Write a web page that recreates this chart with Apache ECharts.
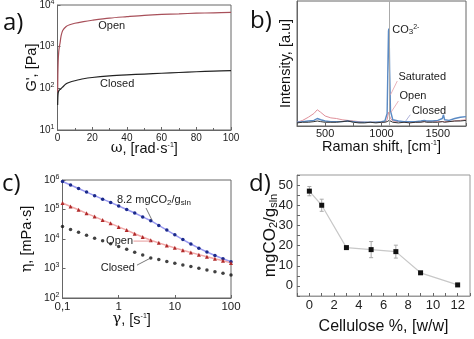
<!DOCTYPE html>
<html>
<head>
<meta charset="utf-8">
<title>Rheology, Raman and CO2 uptake</title>
<script src="https://cdn.jsdelivr.net/npm/echarts@6/dist/echarts.min.js"></script>
<style>
  html, body { margin: 0; padding: 0; background: #fff; }
  #main { width: 474px; height: 339px; }
</style>
</head>
<body>
<div id="main"></div>
<script>
// a) storage modulus G' vs angular frequency
const omega = [0.1, 0.2, 0.4, 0.7, 1, 1.5, 2, 3, 5, 7, 10, 15, 20, 30, 40, 50, 60, 70, 80, 90, 100];
const gOpen = [80, 200, 450, 750, 950, 1250, 1750, 2450, 3050, 3350, 3650, 4000, 4300, 4850, 5250, 5650, 5950, 6150, 6350, 6500, 6650];
const gClosed = [40, 60, 78, 86, 90, 94, 98, 108, 128, 140, 152, 170, 182, 198, 210, 220, 230, 240, 250, 258, 265];

// b) Raman spectra
const ramanShift = [250, 300, 350, 400, 430, 445, 460, 500, 550, 600, 650, 700, 750, 800, 850, 900, 950, 1000, 1030, 1050, 1058, 1062, 1065, 1068, 1072, 1080, 1100, 1150, 1200, 1250, 1300, 1350, 1380, 1400, 1450, 1500, 1540, 1550, 1560, 1600, 1650, 1700, 1750];
const ramanSaturated = [0.03, 0.035, 0.04, 0.045, 0.06, 0.055, 0.05, 0.04, 0.035, 0.035, 0.035, 0.04, 0.035, 0.03, 0.03, 0.03, 0.03, 0.035, 0.04, 0.1, 0.55, 0.76, 0.78, 0.74, 0.45, 0.12, 0.05, 0.04, 0.035, 0.035, 0.035, 0.04, 0.045, 0.04, 0.04, 0.045, 0.06, 0.09, 0.05, 0.045, 0.06, 0.07, 0.075];
const ramanOpen = [0.03, 0.045, 0.07, 0.1, 0.13, 0.14, 0.11, 0.08, 0.065, 0.06, 0.05, 0.045, 0.04, 0.035, 0.03, 0.03, 0.03, 0.03, 0.035, 0.05, 0.09, 0.11, 0.11, 0.1, 0.08, 0.06, 0.04, 0.035, 0.03, 0.03, 0.03, 0.035, 0.035, 0.035, 0.035, 0.035, 0.035, 0.04, 0.035, 0.035, 0.04, 0.045, 0.05];
const ramanClosed = [0.025, 0.03, 0.03, 0.035, 0.04, 0.04, 0.035, 0.03, 0.03, 0.03, 0.035, 0.04, 0.03, 0.025, 0.025, 0.03, 0.025, 0.03, 0.03, 0.035, 0.045, 0.05, 0.05, 0.045, 0.04, 0.035, 0.03, 0.025, 0.03, 0.025, 0.03, 0.03, 0.035, 0.03, 0.03, 0.03, 0.035, 0.04, 0.03, 0.035, 0.04, 0.04, 0.045];

// c) viscosity vs shear rate
const shearRate = [0.1, 0.139, 0.193, 0.268, 0.373, 0.518, 0.72, 1, 1.39, 1.93, 2.68, 3.73, 5.18, 7.2, 10, 13.9, 19.3, 26.8, 37.3, 51.8, 72, 100];
const etaSaturated = [891000, 676000, 513000, 389000, 295000, 224000, 174000, 132000, 100000, 75900, 56200, 41700, 28800, 20000, 13800, 9550, 6760, 4900, 3630, 2750, 2140, 1700];
const etaOpen = [166000, 126000, 97700, 74100, 57500, 43700, 33900, 25700, 20000, 15100, 11700, 9120, 7410, 6030, 5010, 4170, 3470, 2950, 2510, 2140, 1820, 1550];
const etaClosed = [26300, 20900, 17000, 13500, 10700, 8710, 6920, 5620, 4470, 3550, 2880, 2290, 2000, 1740, 1510, 1320, 1170, 1020, 891, 776, 692, 603];

// d) CO2 uptake vs cellulose content
const cellulose = [0, 1, 3, 5, 7, 9, 12];
const co2Uptake = [47, 40, 19, 18, 17, 6.5, 0.5];
const co2Err = [2.3, 3, 0.5, 4, 3.2, 0.5, 0.5];

const pairs = (xs, ys) => xs.map((x, i) => [x, ys[i]]);

const FONT = 'Liberation Sans';
const frame = '#666';
const sup = { fontSize: 7, padding: [0, 0, 6, 0] };
const sub = { fontSize: 8, padding: [5, 0, 0, 0] };
const greek = { fontFamily: 'DejaVu Serif' };
const powerLabel = v => '10{sup|' + Math.round(Math.log10(v)) + '}';

function axis (extra) {
  return Object.assign({
    nameLocation: 'middle',
    nameMoveOverlap: false,
    nameTextStyle: { fontFamily: FONT, fontSize: 14.5, color: '#111', rich: { sup, sub, g: greek } },
    axisLine: { show: true, onZero: false, lineStyle: { color: frame } },
    axisTick: { show: true, inside: true, length: 3, lineStyle: { color: frame } },
    splitLine: { show: false },
    axisLabel: { fontFamily: FONT, fontSize: 10, color: '#222', margin: 3, rich: { sup } },
  }, extra);
}

const box = { show: true, borderColor: frame, borderWidth: 1, containLabel: false, outerBoundsMode: 'none' };

const option = {
  animation: false,
  backgroundColor: '#fff',
  grid: [
    Object.assign({ left: 57.5, top: 5, width: 173.5, height: 125 }, box),
    Object.assign({ left: 297, top: 1, width: 169, height: 125 }, box),
    Object.assign({ left: 62.5, top: 180, width: 168.5, height: 118 }, box),
    Object.assign({ left: 297, top: 175, width: 173, height: 121 }, box, { borderColor: '#999' }),
  ],
  xAxis: [
    axis({ gridIndex: 0, type: 'value', min: 0, max: 100, interval: 20, minorTick: { show: true, splitNumber: 2, length: 2 },
      name: '{g|ω}, [rad·s{sup|-1}]', nameGap: 11 }),
    axis({ gridIndex: 1, type: 'value', min: 250, max: 1750, interval: 250,
      axisLabel: { fontFamily: FONT, fontSize: 11, color: '#222', margin: 2, formatter: v => (v % 500 === 0 ? v : '') },
      name: 'Raman shift, [cm{sup|-1}]', nameGap: 13 }),
    axis({ gridIndex: 2, type: 'log', logBase: 10, min: 0.1, max: 100,
      axisLabel: { fontFamily: FONT, fontSize: 11.5, color: '#222', margin: 3, formatter: v => (v < 0.5 ? '0,1' : String(Math.round(v))) },
      name: '{g|γ}, [s{sup|-1}]', nameGap: 14,
      nameTextStyle: { fontFamily: FONT, fontSize: 14.5, color: '#111', padding: [0, 30, 0, 0], rich: { sup, g: greek } } }),
    axis({ gridIndex: 3, type: 'value', min: -1, max: 13, interval: 1,
      axisLine: { show: true, onZero: false, lineStyle: { color: '#999' } },
      axisLabel: { fontFamily: FONT, fontSize: 13, color: '#222', margin: 3, formatter: v => (v >= 0 && v % 2 === 0 ? v : '') },
      name: 'Cellulose %, [w/w]', nameGap: 23, nameTextStyle: { fontFamily: FONT, fontSize: 16, color: '#111' } }),
  ],
  yAxis: [
    axis({ gridIndex: 0, type: 'log', logBase: 10, min: 10, max: 10000,
      axisLabel: { fontFamily: FONT, fontSize: 10, color: '#222', margin: 3, formatter: powerLabel, rich: { sup } },
      name: "G', [Pa]", nameGap: 18 }),
    axis({ gridIndex: 1, type: 'value', min: 0, max: 1, axisLabel: { show: false }, axisTick: { show: false },
      name: 'Intensity, [a.u]', nameGap: 4 }),
    axis({ gridIndex: 2, type: 'log', logBase: 10, min: 100, max: 1000000,
      axisLabel: { fontFamily: FONT, fontSize: 10.5, color: '#222', margin: 3, formatter: powerLabel, rich: { sup } },
      name: '{g|η}, [mPa·s]', nameGap: 28 }),
    axis({ gridIndex: 3, type: 'value', min: -5, max: 55, interval: 5,
      axisLine: { show: true, onZero: false, lineStyle: { color: '#999' } },
      axisLabel: { fontFamily: FONT, fontSize: 13, color: '#222', margin: 4, formatter: v => (v >= 0 && v % 10 === 0 ? v : '') },
      name: 'mgCO{sub|2}/g{sub|sln}', nameGap: 18,
      nameTextStyle: { fontFamily: FONT, fontSize: 17, color: '#111', rich: { sub: { fontSize: 11, padding: [7, 0, 0, 0] } } } }),
  ],
  series: [
    // a
    { type: 'line', xAxisIndex: 0, yAxisIndex: 0, data: pairs(omega, gOpen), showSymbol: false, smooth: 0.3, lineStyle: { color: '#a8505a', width: 1.2 } },
    { type: 'line', xAxisIndex: 0, yAxisIndex: 0, data: pairs(omega, gClosed), showSymbol: false, smooth: 0.3, lineStyle: { color: '#222', width: 1.2 } },
    // b
    { type: 'line', xAxisIndex: 1, yAxisIndex: 1, data: pairs(ramanShift, ramanOpen), showSymbol: false, lineStyle: { color: '#e0909a', width: 1 } },
    { type: 'line', xAxisIndex: 1, yAxisIndex: 1, data: pairs(ramanShift, ramanSaturated), showSymbol: false, lineStyle: { color: '#5a8ac4', width: 1.4 },
      markLine: { silent: true, symbol: 'none', label: { show: false }, lineStyle: { color: '#aaa', width: 1, type: 'solid' }, data: [{ xAxis: 1065 }] } },
    { type: 'line', xAxisIndex: 1, yAxisIndex: 1, data: pairs(ramanShift, ramanClosed), showSymbol: false, lineStyle: { color: '#333', width: 1 } },
    // c
    { type: 'line', xAxisIndex: 2, yAxisIndex: 2, data: pairs(shearRate, etaSaturated), symbol: 'circle', symbolSize: 3.5,
      itemStyle: { color: '#1b2a8c' }, lineStyle: { color: '#9a9af0', width: 1.5 } },
    { type: 'line', xAxisIndex: 2, yAxisIndex: 2, data: pairs(shearRate, etaOpen), symbol: 'triangle', symbolSize: 4,
      itemStyle: { color: '#b02a2a' }, lineStyle: { color: '#f2a8a8', width: 1.5 } },
    { type: 'scatter', xAxisIndex: 2, yAxisIndex: 2, data: pairs(shearRate, etaClosed), symbol: 'circle', symbolSize: 3.5,
      itemStyle: { color: '#111' } },
    // d
    { type: 'custom', xAxisIndex: 3, yAxisIndex: 3, z: 1,
      data: cellulose.map((c, i) => [c, co2Uptake[i] - co2Err[i], co2Uptake[i] + co2Err[i]]),
      renderItem: (params, api) => {
        const lo = api.coord([api.value(0), api.value(1)]);
        const hi = api.coord([api.value(0), api.value(2)]);
        const st = { stroke: '#aaa', lineWidth: 1 };
        return { type: 'group', children: [
          { type: 'line', shape: { x1: lo[0], y1: lo[1], x2: hi[0], y2: hi[1] }, style: st },
          { type: 'line', shape: { x1: lo[0] - 2, y1: lo[1], x2: lo[0] + 2, y2: lo[1] }, style: st },
          { type: 'line', shape: { x1: hi[0] - 2, y1: hi[1], x2: hi[0] + 2, y2: hi[1] }, style: st },
        ] };
      } },
    { type: 'line', xAxisIndex: 3, yAxisIndex: 3, data: pairs(cellulose, co2Uptake), symbol: 'rect', symbolSize: 5, z: 3,
      itemStyle: { color: '#111' }, lineStyle: { color: '#c8c8c8', width: 1.2 } },
  ],
};

const chart = echarts.init(document.getElementById('main'), null, { renderer: 'canvas' });
chart.setOption(option);

// text annotations and leader lines, anchored in data coordinates
const notes = [
  { g: 0, pos: [23.5, 3220], text: 'Open' },
  { g: 0, pos: [24.5, 127], text: 'Closed' },
  { g: 1, pos: [1095, 0.77], text: 'CO{sub|3}{sup|2-}' },
  { g: 1, pos: [1150, 0.39], text: 'Saturated' },
  { g: 1, pos: [1160, 0.24], text: 'Open' },
  { g: 1, pos: [1270, 0.12], text: 'Closed' },
  { g: 2, pos: [0.93, 209000], text: '8.2 mgCO{sub|2}/g{sub|sln}' },
  { g: 2, pos: [1.8, 8500], text: 'Open', align: 'right' },
  { g: 2, pos: [1.95, 1050], text: 'Closed', align: 'right' },
];
const leaders = [
  { g: 1, from: [1140, 0.36], to: [1080, 0.25], color: '#e3a0a8' },
  { g: 1, from: [1150, 0.2], to: [1085, 0.11], color: '#e3a0a8' },
  { g: 1, from: [1255, 0.09], to: [1215, 0.04], color: '#9aa0d0' },
  { g: 2, from: [3.07, 112000], to: [3.92, 43600], color: '#555' },
  { g: 2, from: [1.84, 8500], to: [3.77, 8500], color: '#e08080' },
  { g: 2, from: [2.12, 1300], to: [3.6, 2200], color: '#555' },
];
const panels = [
  { text: 'a)', x: 3, y: 11 },
  { text: 'b)', x: 250, y: 9 },
  { text: 'c)', x: 2, y: 172 },
  { text: 'd)', x: 249, y: 172 },
];

const at = (g, p) => chart.convertToPixel({ gridIndex: g }, p);
const graphic = [];
notes.forEach(n => {
  const p = at(n.g, n.pos);
  graphic.push({ type: 'text', x: p[0], y: p[1], z: 10, style: {
    text: n.text, fontFamily: FONT, fontSize: 11, fill: '#222', align: n.align || 'left', verticalAlign: 'middle',
    rich: { sub: { fontFamily: FONT, fontSize: 8, padding: [5, 0, 0, 0] }, sup: { fontFamily: FONT, fontSize: 7, padding: [0, 0, 6, 0] } } } });
});
leaders.forEach(l => {
  const a = at(l.g, l.from), b = at(l.g, l.to);
  graphic.push({ type: 'line', z: 9, shape: { x1: a[0], y1: a[1], x2: b[0], y2: b[1] }, style: { stroke: l.color, lineWidth: 0.8 } });
});
panels.forEach(p => {
  graphic.push({ type: 'text', x: p.x, y: p.y, style: { text: p.text, fontFamily: 'Open Sans', fontSize: 24, fill: '#111' } });
});
chart.setOption({ graphic });
</script>
</body>
</html>
